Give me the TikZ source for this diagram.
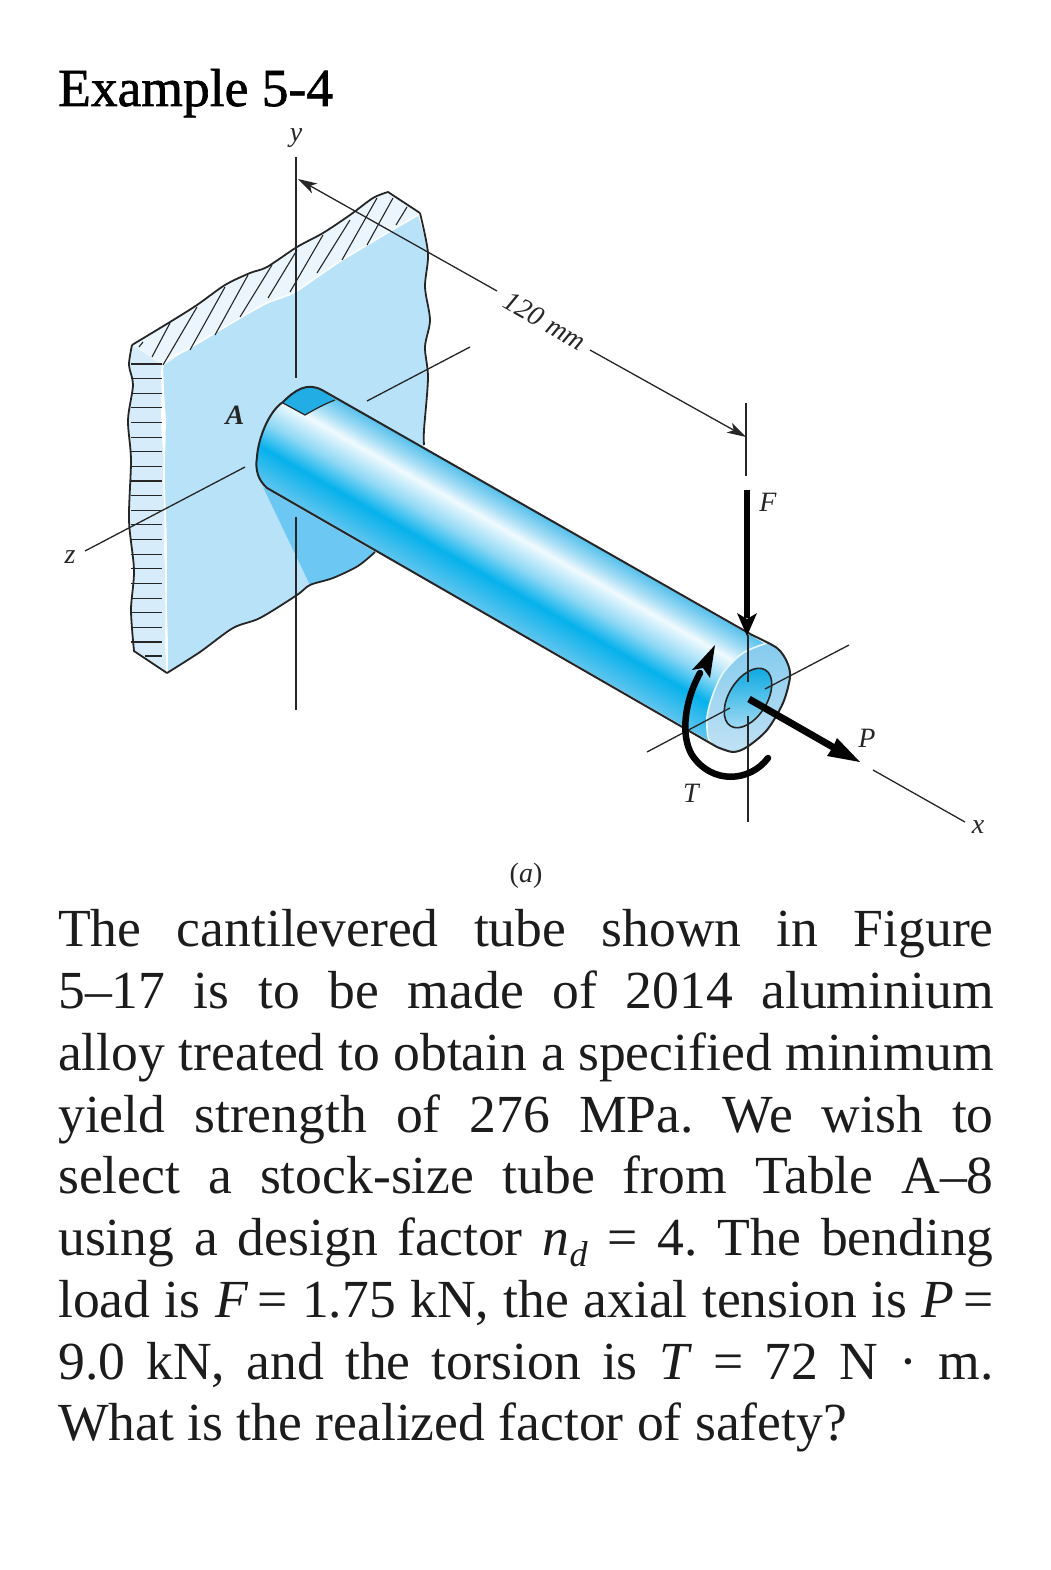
\documentclass[tikz,border=0pt]{standalone}
\usepackage{fontspec}
\setmainfont{Liberation Serif}
\newfontfamily\headfont[FakeBold=1.2]{Liberation Serif}
\usetikzlibrary{arrows.meta}
\definecolor{ink}{HTML}{262626}
\definecolor{bodyink}{HTML}{1C1C1C}
\definecolor{wallfront}{HTML}{B8E2F8}
\definecolor{wallside}{HTML}{D6ECFA}
\definecolor{walltop}{HTML}{EAF5FD}
\definecolor{wallshadow}{HTML}{6CC8F3}
\definecolor{tubeA}{HTML}{5FC5EE}
\definecolor{tubeB}{HTML}{05B1EC}
\definecolor{tubeE}{HTML}{8ED8F5}
\definecolor{tubeC}{HTML}{F0FAFE}
\definecolor{tubeF}{HTML}{A5DDF5}
\definecolor{tubeD}{HTML}{58C1EC}
\definecolor{patch}{HTML}{22AEE4}
\definecolor{faceA}{HTML}{C0E1F4}
\definecolor{faceB}{HTML}{84CBEE}
\definecolor{holeA}{HTML}{A8DDF5}
\definecolor{holeB}{HTML}{15ACE2}
\pgfdeclareverticalshading{tubeg}{100bp}{color(0bp)=(tubeA); color(25bp)=(tubeA); color(39.5bp)=(tubeB); color(50bp)=(tubeE); color(61.5bp)=(tubeC); color(67.5bp)=(tubeF); color(75bp)=(tubeD); color(100bp)=(tubeD)}
\pgfdeclareverticalshading{faceg}{100bp}{color(0bp)=(faceA); color(25bp)=(faceA); color(75bp)=(faceB); color(100bp)=(faceB)}
\pgfdeclareverticalshading{holeg}{100bp}{color(0bp)=(holeA); color(25bp)=(holeA); color(70bp)=(holeB); color(100bp)=(holeB)}
\tikzset{
  outline/.style={draw=ink,line width=1.8pt,line join=round},
  thin axis/.style={draw=ink,line width=1.3pt},
  hatch/.style={draw=ink,line width=1.1pt},
  heavy/.style={draw=black!90!ink,line width=6pt},
  heavyfill/.style={fill=black!90!ink},
  lab/.style={font=\fontsize{28}{28}\selectfont\itshape,text=ink,inner sep=0pt},
}
\begin{document}
\begin{tikzpicture}[x=1pt,y=-1pt]
\useasboundingbox (0,0) rectangle (1050,1570);
\fill[white] (0,0) rectangle (1050,1570);

% --- wall faces
\fill[walltop] (163,366) -- (132,345) -- plot[smooth] coordinates {(132,345) (170,322) (197,305) (225,285) (250,273) (267,267) (297,247) (323,233) (350,215) (373,198) (388,192)} -- (420,213) -- plot[smooth] coordinates {(418,215) (387,233) (367,245) (342,260) (317,277) (293,293) (267,303) (240,318) (190,348) (163,366)} -- cycle;
\fill[wallside] (163,366) -- (132,345) -- plot[smooth] coordinates {(132,345) (129,365) (133,385) (128,420) (131,460) (129,520) (134,570) (131,610) (134,651)} -- (167,673) -- plot[smooth] coordinates {(167,673) (165,640) (166,600) (164,540) (165,480) (161,420) (163,366)} -- cycle;
\fill[wallfront] plot[smooth] coordinates {(418,215) (387,233) (367,245) (342,260) (317,277) (293,293) (267,303) (240,318) (190,348) (163,366)} -- plot[smooth] coordinates {(163,366) (165,420) (164,480) (166,540) (166,600) (167,640) (167,673)} -- plot[smooth] coordinates {(167,673) (200,652) (233,628) (260,618) (297,595) (310,585) (333,578) (358,566) (375,552)} -- (424,445) -- plot[smooth] coordinates {(424,445) (424,430) (428,378) (425,347) (430,320) (425,287) (428,253) (418,215)} -- cycle;
\draw[white,line width=1.6pt] plot[smooth] coordinates {(418,215) (387,233) (367,245) (342,260) (317,277) (293,293) (267,303) (240,318) (190,348) (163,366) (165,420) (164,480) (166,540) (166,600) (167,640) (167,673)};
\fill[wallshadow] (263,487) -- (310,585) -- plot[smooth] coordinates {(310,585) (333,578) (358,566) (375,552)} -- cycle;

% --- hatching on the top and side cuts
\foreach \xa/\ya/\xb/\yb in {139/347/143/342,152/357/170/323,163/365/197/307,190/350/225/287,215/335/248/275,240/317/272/265,268/298/297/250,290/292/323/235,317/273/350/220,342/260/377/198,367/245/393/198,396/225/407/207}
  \draw[hatch] (\xa,\ya) -- (\xb,\yb);
\foreach \i in {0,...,19}
  \draw[hatch] (131,{364+14.63*\i}) -- (162,{364+14.63*\i});
\draw[hatch] (145,656) -- (162,656);

% --- wall outline
\draw[outline] plot[smooth] coordinates {(132,345) (170,322) (197,305) (225,285) (250,273) (267,267) (297,247) (323,233) (350,215) (373,198) (388,192)} -- (420,213);
\draw[outline] plot[smooth] coordinates {(420,213) (428,253) (425,287) (430,320) (425,347) (428,378) (424,430) (424,445)};
\draw[outline] plot[smooth] coordinates {(132,345) (129,365) (133,385) (128,420) (131,460) (129,520) (134,570) (131,610) (134,651)} -- (167,673);
\draw[outline] plot[smooth] coordinates {(167,673) (200,652) (233,628) (260,618) (297,595) (310,585) (333,578) (358,566) (375,552)};

% --- axes behind the tube
\draw[thin axis] (296,157) -- (296,378);
\draw[thin axis] (296,517) -- (296,710);
\draw[thin axis] (85,551) -- (245,467);
\draw[thin axis] (367,401) -- (470,347);

% --- tube body
\begin{scope}
  \clip (322,390) -- (752,635) -- plot[smooth] coordinates {(752,635) (777,648) (787,662) (790,677) (783,703) (767,730) (747,747) (733,752) (717,747)} -- (267,488) .. controls (258,480) and (255,470) .. (257,457) .. controls (258,440) and (268,412) .. (283,402) .. controls (295,390) and (307,382) .. (322,390) -- cycle;
  \begin{scope}[transform canvas={rotate around={-29.8:(520,568)}}]
    \shade[shading=tubeg] (180,512) rectangle (880,624);
  \end{scope}
  % the cut patch at the wall end
  \fill[patch] (283,403) -- (305,415) .. controls (312,411) and (324,404) .. (335,400) -- (322,390) .. controls (307,382) and (295,390) .. (283,402) -- cycle;
\end{scope}
\draw[ink,line width=1.2pt] (283,403) -- (305,415) .. controls (312,411) and (324,404) .. (335,400);

% --- end face of the tube
\shade[shading=faceg] plot[smooth] coordinates {(767,643) (743,653) (723,673) (712,697) (707,717) (708,737) (713,745)} -- plot[smooth] coordinates {(717,747) (733,752) (747,747) (767,730) (783,703) (790,677) (787,662) (777,648)} -- cycle;
\draw[white!85!tubeA,line width=1.6pt] plot[smooth] coordinates {(767,643) (743,653) (723,673) (712,697) (707,717) (708,737) (713,745)};
\shade[shading=holeg,draw=ink,line width=1.6pt,rotate around={58:(748,698)}] (748,698) ellipse (33 and 19);

% --- tube outline
\draw[outline,line width=2pt] (322,390) -- (752,635) -- plot[smooth] coordinates {(752,635) (777,648) (787,662) (790,677) (783,703) (767,730) (747,747) (733,752) (717,747)} -- (267,488) .. controls (258,480) and (255,470) .. (257,457) .. controls (258,440) and (268,412) .. (283,402) .. controls (295,390) and (307,382) .. (322,390) -- cycle;

% --- axes at the free end
\draw[thin axis] (748,635) -- (748,682);
\draw[thin axis] (748,716) -- (748,822);
\draw[thin axis] (849,645) -- (765,689);
\draw[thin axis] (730,708) -- (647,752);
\draw[thin axis] (873,770) -- (965,822);

% --- dimension
\coordinate (dimA) at (298,179);
\coordinate (dimB) at (497,291);
\coordinate (dimC) at (590,350);
\coordinate (dimD) at (746,437);
\draw[thin axis,-{Stealth[length=19pt,width=11pt,inset=5pt]}] (dimB) -- (dimA);
\draw[thin axis,-{Stealth[length=19pt,width=11pt,inset=5pt]}] (dimC) -- (dimD);
\draw[thin axis] (746,403) -- (746,476);
\node[lab,rotate=-29.5] (dimtext) at (545,321) {120 mm};

% --- loads
\draw[heavy] (747,490) -- (747,618);
\fill[heavyfill] (747,636) -- (737,613) -- (747,619) -- (757,613) -- cycle;
\draw[heavy,line width=7pt] (749,699) -- (838,750);
\fill[heavyfill] (860,762) -- (837,738) -- (833,747) -- (827,756) -- cycle;
\draw[heavy,line width=6.5pt,line cap=round] (768,758) .. controls (750,782) and (712,785) .. (692,755) .. controls (680,735) and (685,700) .. (700,673);
\fill[heavyfill] (715,645) -- (692,670) -- (703,668) -- (710,678) -- cycle;

% --- labels
\node[lab] (ylab) at (296,138) {y};
\node[lab] (zlab) at (70,557) {z};
\node[lab] (xlab) at (978,827) {x};
\node[lab,font=\fontsize{28}{28}\selectfont\bfseries\itshape] (alab) at (235,415) {A};
\node[lab] (flab) at (768,502) {F};
\node[lab] (plab) at (867,738) {P};
\node[lab] (tlab) at (691,793) {T};
\node[lab,font=\fontsize{28}{28}\selectfont] (alabel) at (526,876) {(\textit{a})};

% --- text
\node[anchor=base west,inner sep=0pt,text=black] (title) at (58,106) {\fontsize{53.5}{53.5}\headfont Example 5-4};
\node[anchor=north west,inner sep=0pt,text width=935.5pt,align=justify,text=bodyink] (body) at (58,909.5) {%
\fontsize{53.6}{61.75}\selectfont\spaceskip=0.25em plus 1em minus 0.12em\xspaceskip=\spaceskip
The cantilevered tube shown in Figure\linebreak
5--17 is to be made of 2014 aluminium\linebreak
alloy treated to obtain a specified minimum\linebreak
yield strength of 276 MPa. We wish to\linebreak
select a stock-size tube from Table A--8\linebreak
using a design factor \textit{n}\raisebox{-0.2em}{\fontsize{36}{36}\selectfont\textit{d}} = 4. The bending\linebreak
load is \textit{F}\,= 1.75 kN, the axial tension is \textit{P}\,=\linebreak
9.0 kN, and the torsion is \textit{T} = 72 N {\textperiodcentered} m.\linebreak
What is the realized factor of safety?\par};
\end{tikzpicture}
\end{document}
